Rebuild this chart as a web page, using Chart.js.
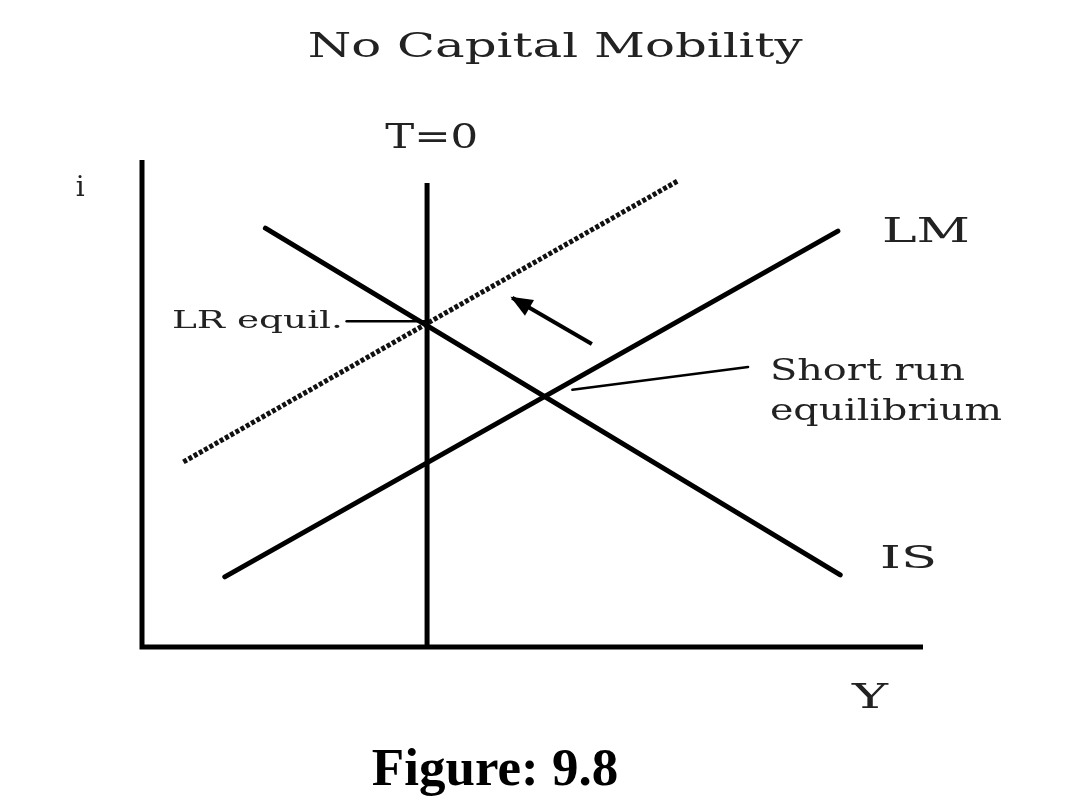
<!DOCTYPE html>
<html>
<head>
<meta charset="utf-8">
<script src="https://cdn.jsdelivr.net/npm/chart.js@4.4.1/dist/chart.umd.min.js"></script>
<style>
  html, body { margin: 0; padding: 0; background: #fff; }
  canvas { display: block; }
</style>
</head>
<body>
<canvas id="islm" width="1080" height="810"></canvas>
<script>
// diagram units: Y (output) on x, i (interest rate) on y, both 0..10
const axisY = [0, 0, 10];
const axisI = [10, 0, 0];

const t0Y = [3.65, 3.65];
const t0I = [0, 9.53];

const isY = [1.58, 8.94];
const isI = [8.60, 1.48];

const lmY = [1.06, 8.91];
const lmI = [1.44, 8.54];

// LM after the shift (dotted)
const lm2Y = [0.53, 6.86];
const lm2I = [3.80, 9.57];

const arrowY = [5.76, 4.74];
const arrowI = [6.22, 7.17];

const lrLeaderY = [2.62, 3.62];
const lrLeaderI = [6.69, 6.69];

const srLeaderY = [5.51, 7.76];
const srLeaderI = [5.28, 5.75];

const labels = [
  { text: 'No Capital Mobility', x: 5.29, y: 12.11, size: 34, width: 495, align: 'center' },
  { text: 'T=0', x: 3.71, y: 10.25, size: 34, width: 93, align: 'center' },
  { text: 'i', x: -0.79, y: 9.26, size: 28, align: 'center' },
  { text: 'LM', x: 9.475, y: 8.32, size: 34, width: 88, align: 'left' },
  { text: 'LR equil.', x: 0.384, y: 6.55, size: 25, width: 171, align: 'left' },
  { text: 'Short run', x: 8.04, y: 5.48, size: 30, width: 195, align: 'left' },
  { text: 'equilibrium', x: 8.04, y: 4.66, size: 30, width: 232, align: 'left' },
  { text: 'IS', x: 9.45, y: 1.62, size: 32, width: 57, align: 'left' },
  { text: 'Y', x: 9.09, y: -1.25, size: 34, width: 36, align: 'left' },
  { text: 'Figure: 9.8', x: 4.52, y: -2.83, size: 53, align: 'center', bold: true }
];

function pts(xs, ys) {
  return xs.map((x, k) => ({ x: x, y: ys[k] }));
}

function line(xs, ys, width, extra) {
  return Object.assign({
    data: pts(xs, ys),
    showLine: true,
    borderColor: '#000',
    borderWidth: width,
    pointRadius: 0,
    clip: false,
    borderCapStyle: 'round',
    borderJoinStyle: 'round'
  }, extra || {});
}

const annotate = {
  id: 'annotate',
  afterDatasetsDraw(chart) {
    const ctx = chart.ctx;
    const sx = chart.scales.x, sy = chart.scales.y;

    // arrow head at the tip of the shift arrow
    const n = arrowY.length;
    const x0 = sx.getPixelForValue(arrowY[n - 2]), y0 = sy.getPixelForValue(arrowI[n - 2]);
    const x1 = sx.getPixelForValue(arrowY[n - 1]), y1 = sy.getPixelForValue(arrowI[n - 1]);
    const a = Math.atan2(y1 - y0, x1 - x0);
    ctx.save();
    ctx.translate(x1, y1);
    ctx.rotate(a);
    ctx.fillStyle = '#000';
    ctx.beginPath();
    ctx.moveTo(2, 0);
    ctx.lineTo(-20, -9);
    ctx.lineTo(-20, 9);
    ctx.closePath();
    ctx.fill();
    ctx.restore();

    labels.forEach(lab => {
      const px = sx.getPixelForValue(lab.x);
      const py = sy.getPixelForValue(lab.y);
      ctx.save();
      ctx.font = lab.bold
        ? 'bold ' + lab.size + 'px "Liberation Serif", "Times New Roman", serif'
        : lab.size + 'px "DejaVu Serif", serif';
      const w = ctx.measureText(lab.text).width;
      const stretch = lab.width ? lab.width / w : 1;
      ctx.translate(px, py);
      ctx.scale(stretch, 1);
      ctx.textAlign = lab.align;
      ctx.textBaseline = 'alphabetic';
      ctx.fillStyle = lab.bold ? '#000' : '#222';
      ctx.fillText(lab.text, 0, 0);
      ctx.restore();
    });
  }
};

new Chart(document.getElementById('islm'), {
  type: 'scatter',
  data: {
    datasets: [
      line(axisY, axisI, 5, { borderJoinStyle: 'miter', borderCapStyle: 'butt' }),
      line(t0Y, t0I, 5, { borderCapStyle: 'butt' }),
      line(isY, isI, 5),
      line(lmY, lmI, 5),
      line(lm2Y, lm2I, 5, { borderDash: [4, 2], borderColor: '#111', borderCapStyle: 'butt' }),
      line(arrowY, arrowI, 4, { borderCapStyle: 'butt' }),
      line(lrLeaderY, lrLeaderI, 2.5),
      line(srLeaderY, srLeaderI, 2.5)
    ]
  },
  options: {
    responsive: false,
    animation: false,
    devicePixelRatio: 1,
    layout: { padding: { left: 142, right: 157, top: 160, bottom: 163 } },
    scales: {
      x: { type: 'linear', min: 0, max: 10, display: false },
      y: { type: 'linear', min: 0, max: 10, display: false }
    },
    plugins: {
      legend: { display: false },
      tooltip: { enabled: false },
      title: { display: false }
    }
  },
  plugins: [annotate]
});
</script>
</body>
</html>
